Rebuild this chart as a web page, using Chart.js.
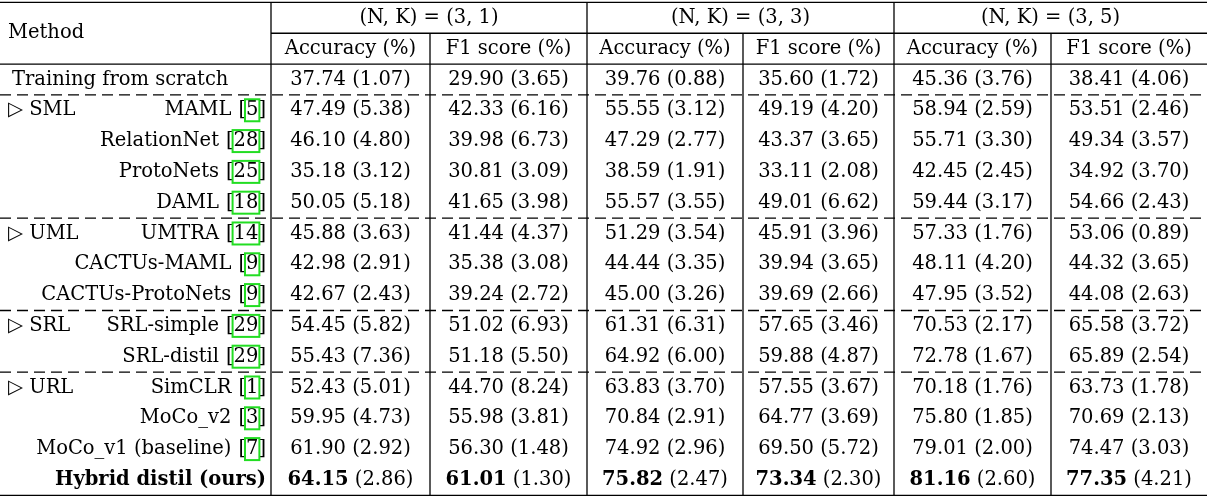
<!DOCTYPE html>
<html><head><meta charset="utf-8">
<script src="https://cdn.jsdelivr.net/npm/chart.js@4/dist/chart.umd.min.js"></script>
<style>body{margin:0;background:#fff}#wrap{width:1207px;height:499px}</style>
</head><body><div id="wrap"><canvas id="c"></canvas></div>
<script>
// table data
const groups = ["", "▷ SML", "", "", "", "▷ UML", "", "", "▷ SRL", "", "▷ URL", "", "", ""];
const methods = ["Training from scratch", "MAML", "RelationNet", "ProtoNets", "DAML", "UMTRA", "CACTUs-MAML", "CACTUs-ProtoNets", "SRL-simple", "SRL-distil", "SimCLR", "MoCo_v2", "MoCo_v1 (baseline)", "Hybrid distil (ours)"];
const cites = ["", "5", "28", "25", "18", "14", "9", "9", "29", "29", "1", "3", "7", ""];
const settings = ["(N, K) = (3, 1)", "(N, K) = (3, 3)", "(N, K) = (3, 5)"];
const metrics = ["Accuracy (%)", "F1 score (%)"];
const means = [
  [37.74, 29.90, 39.76, 35.60, 45.36, 38.41],
  [47.49, 42.33, 55.55, 49.19, 58.94, 53.51],
  [46.10, 39.98, 47.29, 43.37, 55.71, 49.34],
  [35.18, 30.81, 38.59, 33.11, 42.45, 34.92],
  [50.05, 41.65, 55.57, 49.01, 59.44, 54.66],
  [45.88, 41.44, 51.29, 45.91, 57.33, 53.06],
  [42.98, 35.38, 44.44, 39.94, 48.11, 44.32],
  [42.67, 39.24, 45.00, 39.69, 47.95, 44.08],
  [54.45, 51.02, 61.31, 57.65, 70.53, 65.58],
  [55.43, 51.18, 64.92, 59.88, 72.78, 65.89],
  [52.43, 44.70, 63.83, 57.55, 70.18, 63.73],
  [59.95, 55.98, 70.84, 64.77, 75.80, 70.69],
  [61.90, 56.30, 74.92, 69.50, 79.01, 74.47],
  [64.15, 61.01, 75.82, 73.34, 81.16, 77.35]
];
const stds = [
  [1.07, 3.65, 0.88, 1.72, 3.76, 4.06],
  [5.38, 6.16, 3.12, 4.20, 2.59, 2.46],
  [4.80, 6.73, 2.77, 3.65, 3.30, 3.57],
  [3.12, 3.09, 1.91, 2.08, 2.45, 3.70],
  [5.18, 3.98, 3.55, 6.62, 3.17, 2.43],
  [3.63, 4.37, 3.54, 3.96, 1.76, 0.89],
  [2.91, 3.08, 3.35, 3.65, 4.20, 3.65],
  [2.43, 2.72, 3.26, 2.66, 3.52, 2.63],
  [5.82, 6.93, 6.31, 3.46, 2.17, 3.72],
  [7.36, 5.50, 6.00, 4.87, 1.67, 2.54],
  [5.01, 8.24, 3.70, 3.67, 1.76, 1.78],
  [4.73, 3.81, 2.91, 3.69, 1.85, 2.13],
  [2.92, 1.48, 2.96, 5.72, 2.00, 3.03],
  [2.86, 1.30, 2.47, 2.30, 2.60, 4.21]
];
const bestRow = 13;
const dashedAfter = [0, 4, 7, 9];

// layout (x in px units, y in row units)
const colEdges = [0, 271, 430, 587, 743, 894, 1051, 1207];
const F = "DejaVu Serif";
const FS = 19.5;

const tablePlugin = {
  id: "table",
  afterDraw(chart) {
    const ctx = chart.ctx, xs = chart.scales.x, ys = chart.scales.y;
    const X = v => xs.getPixelForValue(v), Y = v => ys.getPixelForValue(v);
    const font = b => (b ? "bold " : "") + FS + "px '" + F + "'";
    ctx.save();
    ctx.fillStyle = "#000"; ctx.strokeStyle = "#000"; ctx.lineWidth = 1.3;
    ctx.textBaseline = "middle";
    const line = (x1, y1, x2, y2, dash) => {
      ctx.setLineDash(dash || []); ctx.beginPath();
      ctx.moveTo(x1, y1); ctx.lineTo(x2, y2); ctx.stroke(); ctx.setLineDash([]);
    };
    // horizontal rules
    line(0, Y(-2.5), 1207, Y(-2.5));
    line(X(colEdges[1]), Y(-1.5), 1207, Y(-1.5));
    line(0, Y(-0.5), 1207, Y(-0.5));
    dashedAfter.forEach(r => line(0, Y(r + 0.5), 1207, Y(r + 0.5), [11, 6]));
    line(0, Y(13.5), 1207, Y(13.5));
    // vertical rules
    for (let i = 1; i < colEdges.length - 1; i++) {
      const top = (i % 2 === 0) ? Y(-1.5) : Y(-2.5);
      line(X(colEdges[i]), top, X(colEdges[i]), Y(13.5));
    }
    // header
    ctx.font = font(false);
    ctx.textAlign = "left";
    ctx.fillText("Method", 8, Y(-1.5));
    ctx.textAlign = "center";
    settings.forEach((s, i) => {
      ctx.font = font(false);
      ctx.fillText(s, (X(colEdges[1 + 2 * i]) + X(colEdges[3 + 2 * i])) / 2, Y(-2));
    });
    for (let c = 0; c < 6; c++) {
      ctx.fillText(metrics[c % 2], (X(colEdges[c + 1]) + X(colEdges[c + 2])) / 2, Y(-1));
    }
    // rows
    methods.forEach((m, r) => {
      const y = Y(r);
      const bold = r === bestRow;
      ctx.font = font(false);
      if (groups[r]) { ctx.textAlign = "left"; ctx.fillText(groups[r], 8, y); }
      let right = X(colEdges[1]) - 5;
      if (cites[r]) {
        ctx.textAlign = "right";
        const t = "[" + cites[r] + "]";
        ctx.fillText(t, right, y);
        const w = ctx.measureText(t).width, wn = ctx.measureText(cites[r]).width;
        const bx = right - w + ctx.measureText("[").width - 1;
        ctx.save(); ctx.strokeStyle = "#22dd22"; ctx.lineWidth = 2;
        ctx.strokeRect(bx, y - 11, wn + 2, 22); ctx.restore();
        right -= w + 7;
      }
      ctx.font = font(bold);
      if (r === 0) { ctx.textAlign = "left"; ctx.fillText(m, 12, y); }
      else { ctx.textAlign = "right"; ctx.fillText(m, right, y); }
      for (let c = 0; c < 6; c++) {
        const cx = (X(colEdges[c + 1]) + X(colEdges[c + 2])) / 2;
        const a = means[r][c].toFixed(2), b = " (" + stds[r][c].toFixed(2) + ")";
        ctx.font = font(bold);
        const wa = ctx.measureText(a).width;
        ctx.font = font(false);
        const wb = ctx.measureText(b).width;
        const x0 = cx - (wa + wb) / 2;
        ctx.textAlign = "left";
        ctx.font = font(bold);
        ctx.fillText(a, x0, y);
        ctx.font = font(false);
        ctx.fillText(b, x0 + wa, y);
      }
    });
    ctx.restore();
  }
};

new Chart(document.getElementById("c"), {
  type: "scatter",
  data: { datasets: [{ data: [] }] },
  options: {
    responsive: true, maintainAspectRatio: false, animation: false,
    layout: { padding: 0 },
    plugins: { legend: { display: false }, tooltip: { enabled: false } },
    scales: {
      x: { type: "linear", min: 0, max: 1207, display: false },
      y: { type: "linear", min: -2.58, max: 13.62, reverse: true, display: false }
    }
  },
  plugins: [tablePlugin]
});
</script></body></html>
